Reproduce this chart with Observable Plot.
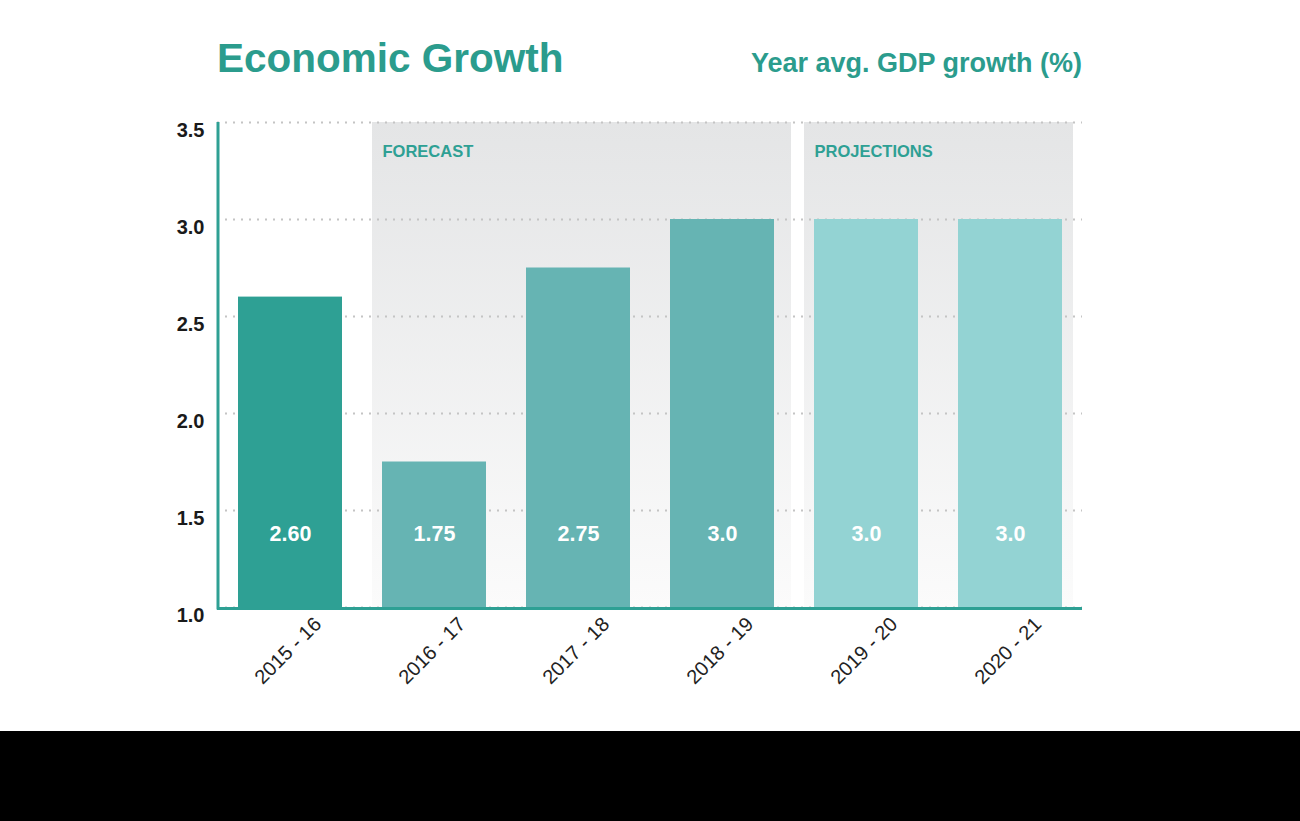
<!DOCTYPE html>
<html>
<head>
<meta charset="utf-8">
<script src="https://cdn.jsdelivr.net/npm/d3@7"></script>
<script src="https://cdn.jsdelivr.net/npm/@observablehq/plot@0.6"></script>
<style>
  html, body { margin: 0; padding: 0; background: #fff; }
  body { width: 1300px; height: 821px; overflow: hidden; font-family: "Liberation Sans", Arial, Helvetica, sans-serif; }
  #header { position: relative; height: 100px; }
  #title { position: absolute; left: 217px; top: 38px; font-size: 40.5px; line-height: 41px; font-weight: bold; color: #2b9c8d; white-space: nowrap; }
  #subtitle { position: absolute; right: 218px; top: 50px; font-size: 27px; line-height: 27px; font-weight: bold; color: #2b9c8d; white-space: nowrap; }
  #chart svg { display: block; }
  #footer { height: 90px; background: #000; }
</style>
</head>
<body>
<div id="header">
  <div id="title">Economic Growth</div>
  <div id="subtitle">Year avg. GDP growth (%)</div>
</div>
<div id="chart"></div>
<div id="footer"></div>
<script>
const categories = ["2015 - 16", "2016 - 17", "2017 - 18", "2018 - 19", "2019 - 20", "2020 - 21"];
const values = [2.60, 1.75, 2.75, 3.0, 3.0, 3.0];
const valueLabels = ["2.60", "1.75", "2.75", "3.0", "3.0", "3.0"];
const phases = ["Actual", "Forecast", "Forecast", "Forecast", "Projection", "Projection"];
const yTicks = [1.0, 1.5, 2.0, 2.5, 3.0, 3.5];
const regionLabels = ["FORECAST", "PROJECTIONS"];
const regionFrom = ["2016 - 17", "2019 - 20"];
const regionTo = ["2018 - 19", "2020 - 21"];

const phaseColors = ["#2ea094", "#66b4b3", "#93d3d3"];
const teal = "#2ea094";
const regionPadRight = [17, 11];

const data = categories.map((c, i) => ({cat: c, value: values[i], label: valueLabels[i], phase: phases[i]}));
const regions = regionLabels.map((l, i) => ({label: l, from: regionFrom[i], to: regionTo[i], padRight: regionPadRight[i]}));

function regionLayer(index, scales, values, dims) {
  const x = scales.x, y = scales.y;
  const g = d3.create("svg:g");
  const grad = g.append("defs").append("linearGradient")
    .attr("id", "shade").attr("x1", 0).attr("y1", 0).attr("x2", 0).attr("y2", 1);
  grad.append("stop").attr("offset", "0%").attr("stop-color", "#e4e5e6");
  grad.append("stop").attr("offset", "100%").attr("stop-color", "#fbfbfb");
  for (const r of regions) {
    const x0 = x(r.from) - 10;
    const x1 = x(r.to) + x.bandwidth() + r.padRight;
    g.append("rect")
      .attr("x", x0).attr("y", y(3.5))
      .attr("width", x1 - x0).attr("height", y(1) - y(3.5))
      .attr("fill", "url(#shade)");
  }
  return g.node();
}

function leftAxisLine(index, scales, values, dims) {
  const y = scales.y;
  const g = d3.create("svg:g");
  g.append("line")
    .attr("x1", dims.marginLeft + 1).attr("x2", dims.marginLeft + 1)
    .attr("y1", y(3.5)).attr("y2", y(1) + 2.5)
    .attr("stroke", teal).attr("stroke-width", 3);
  return g.node();
}

const chart = Plot.plot({
  width: 1300,
  height: 631,
  marginTop: 22,
  marginBottom: 124,
  marginLeft: 217,
  marginRight: 218,
  style: {fontFamily: "'Liberation Sans', Arial, Helvetica, sans-serif", background: "transparent", overflow: "visible"},
  x: {domain: categories, paddingInner: 0.28, paddingOuter: 0.14, axis: null},
  y: {domain: [1, 3.5], axis: null},
  color: {domain: ["Actual", "Forecast", "Projection"], range: phaseColors},
  marks: [
    regionLayer,
    Plot.ruleY(yTicks, {stroke: "#c4c4c4", strokeWidth: 2, strokeDasharray: "2,6", strokeOpacity: 1}),
    Plot.barY(data, {x: "cat", y1: 1, y2: "value", fill: "phase"}),
    Plot.text(regions, {x: "from", text: "label", frameAnchor: "top", dx: -52, dy: 23, textAnchor: "start", fill: teal, fontSize: 16.5, fontWeight: "bold"}),
    Plot.text(data, {x: "cat", text: "label", frameAnchor: "bottom", dy: -67, fill: "#ffffff", fontSize: 21.5, fontWeight: "bold"}),
    Plot.text(yTicks, {y: d => d, text: d => d3.format(".1f")(d), frameAnchor: "left", dx: -13, dy: 8, textAnchor: "end", fill: "#1a1a1a", fontSize: 20, fontWeight: "bold"}),
    Plot.text(categories, {x: d => d, text: d => d, frameAnchor: "bottom", rotate: -45, textAnchor: "end", lineAnchor: "bottom", dx: 32, dy: 18, fill: "#222222", fontSize: 20}),
    Plot.ruleY([1], {stroke: teal, strokeWidth: 3, dy: 1}),
    leftAxisLine
  ]
});
document.getElementById("chart").appendChild(chart);
</script>
</body>
</html>
